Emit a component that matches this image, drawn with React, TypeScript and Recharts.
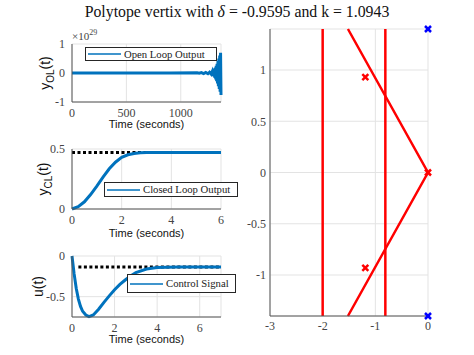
import React from "react";
import {
	LineChart,
	ComposedChart,
	Line,
	Scatter,
	XAxis,
	YAxis,
	CartesianGrid,
	Legend,
	Label
} from "recharts";

const BLUE = "#0072bd";
const RED = "#ff0000";
const MARK_BLUE = "#0000ff";
const AXIS = "#555555";
const GRID = "#e3e3e3";
const SERIF = "'Liberation Serif', 'Times New Roman', serif";
const SANS = "'Liberation Sans', Arial, sans-serif";

// open loop output, in units of 1e29
const olTime = [
	0, 300, 600, 900, 1150, 1170, 1190, 1210, 1230, 1250, 1265, 1280, 1290,
	1298, 1302, 1306, 1310, 1314, 1318, 1322, 1326, 1330, 1334, 1338, 1342,
	1346, 1350, 1354, 1358, 1362, 1366, 1370
];
const olOutput = [
	0, 0, 0, 0, 0.01, -0.01, 0.015, -0.02, 0.02, -0.025, 0.03, -0.04, 0.05,
	-0.09, 0.11, -0.13, 0.15, -0.17, 0.19, -0.22, 0.25, -0.28, 0.32, -0.36, 0.41,
	-0.46, 0.5, -0.55, 0.6, -0.65, 0.7, -0.76
];
const olTicksX = [0, 500, 1000];
const olTicksY = [-1, 0, 1];

// closed loop output
const clTime = [0, 0.25, 0.5, 0.75, 1, 1.25, 1.5, 1.75, 2, 2.25, 2.5, 2.75, 3, 3.5, 4, 5, 6];
const clOutput = [
	0, 0.02, 0.06, 0.12, 0.19, 0.265, 0.335, 0.39, 0.43, 0.452, 0.463, 0.468,
	0.47, 0.47, 0.47, 0.47, 0.47
];
const clRefTime = [0, 6];
const clRef = 0.47;
const clTicksX = [0, 2, 4, 6];
const clTicksY = [0, 0.5];

// control signal
const uTime = [
	0, 0.1, 0.2, 0.3, 0.4, 0.5, 0.65, 0.8, 1, 1.25, 1.5, 1.75, 2, 2.25, 2.5,
	2.75, 3, 3.5, 4, 5, 6, 7
];
const uSignal = [
	0, -0.22, -0.4, -0.53, -0.62, -0.68, -0.725, -0.745, -0.725, -0.655, -0.57,
	-0.49, -0.415, -0.35, -0.295, -0.245, -0.205, -0.16, -0.142, -0.136, -0.135,
	-0.135
];
const uRefTime = [0.3, 7];
const uRef = -0.135;
const uTicksX = [0, 2, 4, 6];
const uTicksY = [-0.5, 0];

// pole map
const boundaryRe = [-2, -0.81];
const coneRe = [-1.52, 0, -1.52];
const coneIm = [1.4, 0, -1.4];
const closedPolesRe = [-1.19, -1.19, 0];
const closedPolesIm = [0.93, -0.93, 0];
const openPolesRe = [0, 0];
const openPolesIm = [1.4, -1.4];
const mapTicksX = [-3, -2, -1, 0];
const mapTicksY = [-1, -0.5, 0, 0.5, 1];

const olData = olTime.map((t, i) => ({ t, y: olOutput[i] }));
const clData = clTime.map((t, i) => ({ t, y: clOutput[i] }));
const clRefData = clRefTime.map((t) => ({ t, ref: clRef }));
const uData = uTime.map((t, i) => ({ t, y: uSignal[i] }));
const uRefData = uRefTime.map((t) => ({ t, ref: uRef }));
const boundaryLines = boundaryRe.map((re) => [
	{ x: re, y: 1.4 },
	{ x: re, y: -1.4 }
]);
const coneData = coneRe.map((x, i) => ({ x, y: coneIm[i] }));
const closedPoles = closedPolesRe.map((x, i) => ({ x, y: closedPolesIm[i] }));
const openPoles = openPolesRe.map((x, i) => ({ x, y: openPolesIm[i] }));

const tickStyle = { fill: "#444", fontSize: 12, fontFamily: SERIF };

function crossShape(color: string, size: number) {
	return (props: any) => {
		const { cx, cy } = props;
		const s = size / 2;
		return (
			<g stroke={color} strokeWidth={2.5}>
				<line x1={cx - s} y1={cy - s} x2={cx + s} y2={cy + s} />
				<line x1={cx - s} y1={cy + s} x2={cx + s} y2={cy - s} />
			</g>
		);
	};
}

function yTitle(main: string, sub: string, x: number, exponent?: boolean) {
	return (props: any) => {
		const vb = props.viewBox;
		const cy = vb.y + vb.height / 2;
		return (
			<g>
				<text
					x={x}
					y={cy}
					transform={`rotate(-90 ${x} ${cy})`}
					textAnchor="middle"
					fontFamily={SANS}
					fontSize={14}
					fill="#111"
				>
					{main}
					{sub ? (
						<tspan dy={4} fontSize={10}>
							{sub}
						</tspan>
					) : null}
					<tspan dy={sub ? -4 : 0}>(t)</tspan>
				</text>
				{exponent ? (
					<text x={vb.x + vb.width} y={vb.y - 4} fontFamily={SERIF} fontSize={11} fill="#444">
						×10
						<tspan dy={-5} fontSize={8}>
							29
						</tspan>
					</text>
				) : null}
			</g>
		);
	};
}

function LegendBox({ label, width, height }: { label: string; width: number; height: number }) {
	return (
		<div
			style={{
				boxSizing: "border-box",
				width,
				height,
				border: "1px solid #262626",
				background: "#fff",
				display: "flex",
				alignItems: "center",
				whiteSpace: "nowrap",
				fontFamily: SERIF,
				fontSize: 10.7,
				color: "#222",
				lineHeight: 1
			}}
		>
			<svg width={38} height={6} style={{ flex: "none" }}>
				<line x1={2} x2={35} y1={3} y2={3} stroke={BLUE} strokeWidth={1.5} />
			</svg>
			<span>{label}</span>
		</div>
	);
}

function timeLabel(offset: number) {
	return (
		<Label
			value="Time (seconds)"
			position="insideBottom"
			offset={offset}
			fill="#111"
			fontSize={11}
			fontFamily={SANS}
		/>
	);
}

export default function App() {
	return (
		<div style={{ position: "absolute", left: 0, top: 0, width: 474, height: 355, background: "#fff" }}>
			<div
				style={{
					position: "absolute",
					left: 0,
					top: 3,
					width: 474,
					textAlign: "center",
					fontFamily: SERIF,
					fontSize: 15.8,
					color: "#111"
				}}
			>
				Polytope vertix with <i>δ</i> = -0.9595 and k = 1.0943
			</div>

			<div style={{ position: "absolute", left: 0, top: 28 }}>
				<LineChart width={240} height={102} data={olData} margin={{ top: 16, right: 19, bottom: 0, left: 0 }}>
					<CartesianGrid stroke={GRID} />
					<XAxis
						dataKey="t"
						type="number"
						domain={[0, 1370]}
						ticks={olTicksX}
						height={28}
						tickLine={false}
						tickSize={4}
						tickMargin={2}
						axisLine={{ stroke: AXIS }}
						tick={tickStyle}
					>
						{timeLabel(2)}
					</XAxis>
					<YAxis
						type="number"
						domain={[-1, 1]}
						ticks={olTicksY}
						width={72}
						tickLine={false}
						tickSize={4}
						tickMargin={3}
						axisLine={{ stroke: AXIS }}
						tick={tickStyle}
					>
						<Label content={yTitle("y", "OL", 50, true)} />
					</YAxis>
					<XAxis xAxisId="top" orientation="top" height={0} tick={false} tickLine={false} axisLine={{ stroke: AXIS }} />
					<YAxis yAxisId="right" orientation="right" width={0} tick={false} tickLine={false} axisLine={{ stroke: AXIS }} />
					<Line dataKey="y" stroke={BLUE} strokeWidth={3} dot={false} isAnimationActive={false} />
					<Legend
						layout="vertical"
						align="center"
						verticalAlign="middle"
						wrapperStyle={{ left: 85, top: 19, width: "auto" }}
						content={() => <LegendBox label="Open Loop Output" width={132} height={14} />}
					/>
				</LineChart>
			</div>

			<div style={{ position: "absolute", left: 0, top: 140 }}>
				<LineChart width={240} height={99} data={clData} margin={{ top: 9, right: 19, bottom: 0, left: 0 }}>
					<CartesianGrid stroke={GRID} />
					<XAxis
						dataKey="t"
						type="number"
						domain={[0, 6]}
						ticks={clTicksX}
						height={30}
						tickLine={false}
						tickSize={4}
						tickMargin={2}
						axisLine={{ stroke: AXIS }}
						tick={tickStyle}
					>
						{timeLabel(2)}
					</XAxis>
					<YAxis
						type="number"
						domain={[0, 0.5]}
						ticks={clTicksY}
						width={72}
						tickLine={false}
						tickSize={4}
						tickMargin={3}
						axisLine={{ stroke: AXIS }}
						tick={tickStyle}
					>
						<Label content={yTitle("y", "CL", 48)} />
					</YAxis>
					<XAxis xAxisId="top" orientation="top" height={0} tick={false} tickLine={false} axisLine={{ stroke: AXIS }} />
					<YAxis yAxisId="right" orientation="right" width={0} tick={false} tickLine={false} axisLine={{ stroke: AXIS }} />
					<Line
						data={clRefData}
						dataKey="ref"
						stroke="#000"
						strokeWidth={3}
						strokeDasharray="3 2.5"
						dot={false}
						isAnimationActive={false}
					/>
					<Line dataKey="y" stroke={BLUE} strokeWidth={3} dot={false} isAnimationActive={false} />
					<Legend
						layout="vertical"
						align="center"
						verticalAlign="middle"
						wrapperStyle={{ left: 104, top: 42, width: "auto" }}
						content={() => <LegendBox label="Closed Loop Output" width={134} height={15} />}
					/>
				</LineChart>
			</div>

			<div style={{ position: "absolute", left: 0, top: 247 }}>
				<LineChart width={240} height={100} data={uData} margin={{ top: 9, right: 19, bottom: 0, left: 0 }}>
					<CartesianGrid stroke={GRID} />
					<XAxis
						dataKey="t"
						type="number"
						domain={[0, 7]}
						ticks={uTicksX}
						height={30}
						tickLine={false}
						tickSize={4}
						tickMargin={2}
						axisLine={{ stroke: AXIS }}
						tick={tickStyle}
					>
						{timeLabel(4)}
					</XAxis>
					<YAxis
						type="number"
						domain={[-0.75, 0]}
						ticks={uTicksY}
						width={72}
						tickLine={false}
						tickSize={4}
						tickMargin={3}
						axisLine={{ stroke: AXIS }}
						tick={tickStyle}
					>
						<Label content={yTitle("u", "", 43)} />
					</YAxis>
					<XAxis xAxisId="top" orientation="top" height={0} tick={false} tickLine={false} axisLine={{ stroke: AXIS }} />
					<YAxis yAxisId="right" orientation="right" width={0} tick={false} tickLine={false} axisLine={{ stroke: AXIS }} />
					<Line
						data={uRefData}
						dataKey="ref"
						stroke="#000"
						strokeWidth={3}
						strokeDasharray="3 2.5"
						dot={false}
						isAnimationActive={false}
					/>
					<Line dataKey="y" stroke={BLUE} strokeWidth={3} dot={false} isAnimationActive={false} />
					<Legend
						layout="vertical"
						align="center"
						verticalAlign="middle"
						wrapperStyle={{ left: 127, top: 27, width: "auto" }}
						content={() => <LegendBox label="Control Signal" width={109} height={19} />}
					/>
				</LineChart>
			</div>

			<div style={{ position: "absolute", left: 230, top: 20 }}>
				<ComposedChart width={244} height={320} margin={{ top: 9, right: 46, bottom: 0, left: 0 }}>
					<CartesianGrid stroke={GRID} />
					<XAxis
						dataKey="x"
						type="number"
						domain={[-3, 0]}
						ticks={mapTicksX}
						height={24}
						tickLine={false}
						tickSize={4}
						tickMargin={1}
						axisLine={{ stroke: AXIS }}
						tick={tickStyle}
					/>
					<YAxis
						dataKey="y"
						type="number"
						domain={[-1.4, 1.4]}
						ticks={mapTicksY}
						width={40}
						tickLine={false}
						tickSize={2}
						tickMargin={2}
						axisLine={{ stroke: AXIS }}
						tick={tickStyle}
					/>
					<XAxis xAxisId="top" orientation="top" height={0} tick={false} tickLine={false} axisLine={{ stroke: AXIS }} />
					<YAxis yAxisId="right" orientation="right" width={0} tick={false} tickLine={false} axisLine={{ stroke: AXIS }} />
					{boundaryLines.map((pts, i) => (
						<Line
							key={i}
							data={pts}
							dataKey="y"
							stroke={RED}
							strokeWidth={2.5}
							dot={false}
							isAnimationActive={false}
						/>
					))}
					<Line data={coneData} dataKey="y" stroke={RED} strokeWidth={2.5} dot={false} isAnimationActive={false} />
					<Scatter data={closedPoles} dataKey="y" shape={crossShape(RED, 6)} isAnimationActive={false} />
					<Scatter data={openPoles} dataKey="y" shape={crossShape(MARK_BLUE, 6)} isAnimationActive={false} />
				</ComposedChart>
			</div>
		</div>
	);
}
